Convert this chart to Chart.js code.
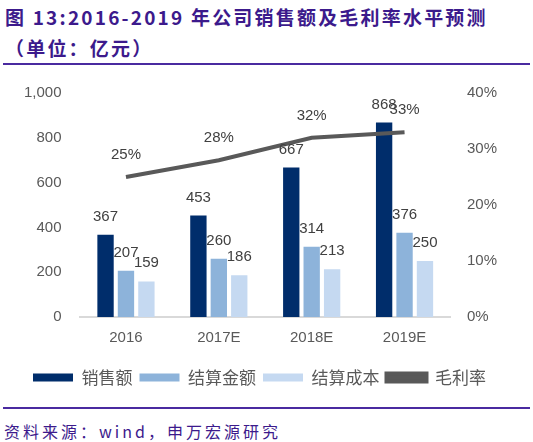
<!DOCTYPE html>
<html>
<head>
<meta charset="utf-8">
<script src="https://cdn.jsdelivr.net/npm/chart.js@4.4.0/dist/chart.umd.min.js"></script>
<style>
    body { margin: 0; width: 533px; height: 442px; background: #fff; position: relative; overflow: hidden; font-family: "Noto Sans CJK SC", sans-serif; }
    .title { position: absolute; left: 5px; top: 1px; color: #3c1a8c; font-weight: bold; font-size: 19px; line-height: 31px; letter-spacing: 2.2px; white-space: nowrap; }
    .rule { position: absolute; left: 3px; width: 527px; height: 2px; background: #4a2aa0; }
    .source { position: absolute; left: 4px; top: 420px; color: #3c1a8c; font-size: 16px; line-height: 22px; letter-spacing: 3px; }
    #wrap { position: absolute; left: 0; top: 66px; width: 533px; height: 330px; }
</style>
</head>
<body>
<div class="title">图&nbsp;13:2016-2019 年公司销售额及毛利率水平预测<br>（单位：亿元）</div>
<div class="rule" style="top:63px"></div>
<div id="wrap"><canvas id="chart"></canvas></div>
<div class="rule" style="top:407px"></div>
<div class="source">资料来源：wind，申万宏源研究</div>
<script>
// Chart data
const years = ['2016', '2017E', '2018E', '2019E'];
const sales = [367, 453, 667, 868];
const settleAmount = [207, 260, 314, 376];
const settleCost = [159, 186, 213, 250];
const grossMargin = [25, 28, 32, 33];

const textColor = '#595959';
const latin = '"Liberation Sans", Arial, sans-serif';

// Draw value labels above bars and line points
const valueLabels = {
    id: 'valueLabels',
    afterDatasetsDraw(chart) {
        const ctx = chart.ctx;
        ctx.save();
        ctx.font = '15px ' + latin;
        ctx.fillStyle = '#404040';
        ctx.textAlign = 'center';
        ctx.textBaseline = 'alphabetic';
        chart.data.datasets.forEach((ds, i) => {
            const meta = chart.getDatasetMeta(i);
            meta.data.forEach((el, j) => {
                if (ds.type === 'line') {
                    ctx.fillText(ds.data[j] + '%', el.x, el.y - 18);
                } else {
                    ctx.fillText(ds.data[j], el.x, el.y - 14);
                }
            });
        });
        ctx.restore();
    }
};

const ctx = document.getElementById('chart').getContext('2d');
new Chart(ctx, {
    data: {
        labels: years,
        datasets: [
            { type: 'bar', label: '销售额', data: sales, backgroundColor: '#002d6b', yAxisID: 'y', order: 2 },
            { type: 'bar', label: '结算金额', data: settleAmount, backgroundColor: '#8db3da', yAxisID: 'y', order: 2 },
            { type: 'bar', label: '结算成本', data: settleCost, backgroundColor: '#c5d9f1', yAxisID: 'y', order: 2 },
            { type: 'line', label: '毛利率', data: grossMargin, borderColor: '#595959', backgroundColor: '#595959',
              borderWidth: 4, pointRadius: 0, tension: 0, yAxisID: 'y1', order: 1 }
        ]
    },
    options: {
        responsive: true,
        maintainAspectRatio: false,
        animation: false,
        categoryPercentage: 0.66,
        barPercentage: 0.8,
        layout: { padding: { left: 6, right: 20, top: 6, bottom: 0 } },
        plugins: {
            legend: {
                position: 'bottom',
                labels: {
                    boxWidth: 40,
                    boxHeight: 8,
                    padding: 7,
                    color: textColor,
                    font: { size: 17, family: '"Noto Sans CJK SC", sans-serif' },
                    sort: (a, b) => a.datasetIndex - b.datasetIndex
                }
            },
            tooltip: { enabled: false }
        },
        scales: {
            x: {
                grid: { display: false, drawTicks: false },
                border: { color: '#d9d9d9', width: 2 },
                ticks: { color: textColor, font: { size: 15, family: latin }, padding: 12 },
                afterFit: scale => { scale.height += 3; }
            },
            y: {
                position: 'left',
                min: 0,
                max: 1000,
                ticks: {
                    stepSize: 200,
                    color: textColor,
                    padding: 18,
                    font: { size: 15, family: latin },
                    callback: v => v.toLocaleString('en-US')
                },
                grid: { display: false, drawTicks: false },
                border: { display: false }
            },
            y1: {
                position: 'right',
                min: 0,
                max: 40,
                ticks: {
                    stepSize: 10,
                    color: textColor,
                    padding: 16,
                    font: { size: 15, family: latin },
                    callback: v => v + '%'
                },
                grid: { display: false, drawTicks: false },
                border: { display: false }
            }
        }
    },
    plugins: [valueLabels]
});
</script>
</body>
</html>
